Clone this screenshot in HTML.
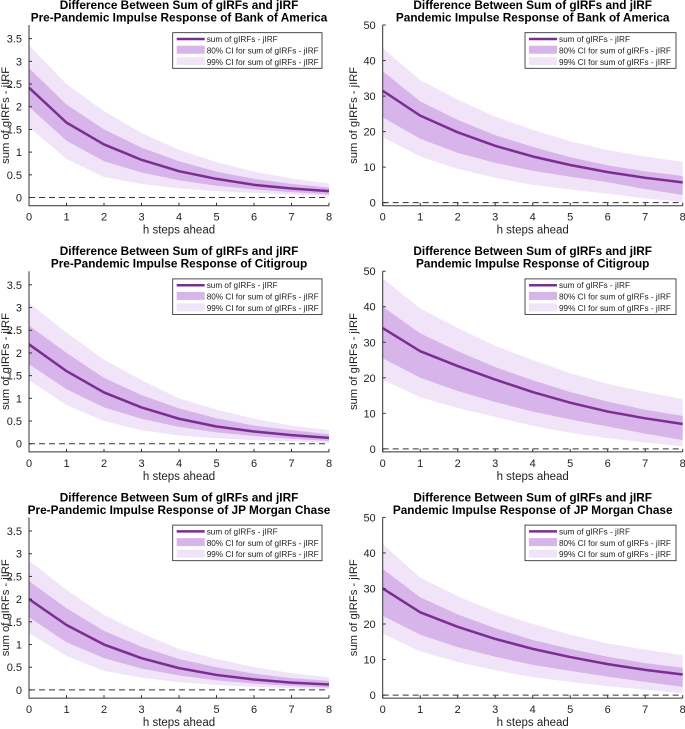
<!DOCTYPE html>
<html><head><meta charset="utf-8"><style>
html,body{margin:0;padding:0;background:#fff;}
svg{display:block;font-family:"Liberation Sans",Arial,sans-serif;}
</style></head><body>
<svg id="fig" width="685" height="729" viewBox="0 0 685 729" xmlns="http://www.w3.org/2000/svg"></svg>
<script>
const hSteps = [0,1,2,3,4,5,6,7,8];
const xTickLabels = ["0","1","2","3","4","5","6","7","8"];
const leftYTicks = [0,0.5,1,1.5,2,2.5,3,3.5];
const leftYTickLabels = ["0","0.5","1","1.5","2","2.5","3","3.5"];
const rightYTicks = [0,10,20,30,40,50];
const rightYTickLabels = ["0","10","20","30","40","50"];
const titles = [
 "Pre-Pandemic Impulse Response of Bank of America","Pandemic Impulse Response of Bank of America",
 "Pre-Pandemic Impulse Response of Citigroup","Pandemic Impulse Response of Citigroup",
 "Pre-Pandemic Impulse Response of JP Morgan Chase","Pandemic Impulse Response of JP Morgan Chase"];
// Panel 1: BoA pre
const boaPreMean = [2.42,1.65,1.17,0.83,0.58,0.41,0.28,0.2,0.14];
const boaPreUp80 = [2.85,2.05,1.5,1.1,0.8,0.57,0.41,0.3,0.22];
const boaPreLo80 = [2.0,1.25,0.8,0.55,0.38,0.26,0.18,0.12,0.07];
const boaPreUp99 = [3.35,2.5,1.9,1.42,1.05,0.78,0.57,0.42,0.31];
const boaPreLo99 = [1.55,0.85,0.45,0.3,0.2,0.14,0.1,0.07,0.03];
// Panel 2: BoA pandemic
const boaPanMean = [31.5,24.5,19.8,16,13,10.6,8.6,7,5.7];
const boaPanUp80 = [37,28.5,23.3,19,15.7,12.8,10.5,8.8,7.5];
const boaPanLo80 = [24,18,14,11.2,9,7.3,5.8,3.8,2.2];
const boaPanUp99 = [43.5,34.5,29,24.2,20.5,17.3,14.8,13,11.5];
const boaPanLo99 = [18.5,13,9.5,7,5,3.7,2.5,1.2,0.2];
// Panel 3: Citi pre
const citiPreMean = [2.19,1.6,1.13,0.8,0.55,0.38,0.27,0.19,0.13];
const citiPreUp80 = [2.6,2.0,1.45,1.07,0.78,0.56,0.4,0.3,0.21];
const citiPreLo80 = [1.75,1.2,0.8,0.55,0.37,0.25,0.17,0.11,0.06];
const citiPreUp99 = [3.1,2.45,1.85,1.4,1.0,0.75,0.55,0.4,0.3];
const citiPreLo99 = [1.4,0.85,0.5,0.3,0.18,0.12,0.08,0.05,0.02];
// Panel 4: Citi pandemic
const citiPanMean = [34,27.5,23.3,19.5,16,13,10.5,8.6,7];
const citiPanUp80 = [40,32.5,27.5,23,19.3,16,13.3,11,9.3];
const citiPanLo80 = [25.5,20,16.3,13.2,10.5,8.3,6.3,4.3,2.5];
const citiPanUp99 = [48,39.5,34,29,25,21.3,18.3,16,14];
const citiPanLo99 = [19.5,14.5,11.5,9,6.5,4.5,3,1.8,0.7];
// Panel 5: JPM pre
const jpmPreMean = [2.0,1.43,1.0,0.7,0.48,0.33,0.23,0.16,0.12];
const jpmPreUp80 = [2.4,1.8,1.3,0.95,0.68,0.5,0.36,0.26,0.2];
const jpmPreLo80 = [1.6,1.05,0.7,0.47,0.32,0.21,0.14,0.09,0.05];
const jpmPreUp99 = [2.85,2.2,1.65,1.25,0.9,0.68,0.5,0.37,0.28];
const jpmPreLo99 = [1.25,0.75,0.42,0.27,0.17,0.11,0.07,0.04,0.02];
// Panel 6: JPM pandemic
const jpmPanMean = [30,23.3,19.2,15.8,13,10.7,8.7,7.1,5.8];
const jpmPanUp80 = [35.5,27.5,22.7,18.8,15.5,13,10.8,9,7.7];
const jpmPanLo80 = [22.3,17,13.5,10.8,8.5,6.8,5.2,3.7,2.3];
const jpmPanUp99 = [42.5,33,27.8,23.5,20,17,14.5,12.8,11.2];
const jpmPanLo99 = [17.3,12.3,9.3,7,5,3.7,2.5,1.5,0.5];

const panels = [
 [boaPreMean,boaPreUp80,boaPreLo80,boaPreUp99,boaPreLo99],
 [boaPanMean,boaPanUp80,boaPanLo80,boaPanUp99,boaPanLo99],
 [citiPreMean,citiPreUp80,citiPreLo80,citiPreUp99,citiPreLo99],
 [citiPanMean,citiPanUp80,citiPanLo80,citiPanUp99,citiPanLo99],
 [jpmPreMean,jpmPreUp80,jpmPreLo80,jpmPreUp99,jpmPreLo99],
 [jpmPanMean,jpmPanUp80,jpmPanLo80,jpmPanUp99,jpmPanLo99]];

const NS="http://www.w3.org/2000/svg";
const svg=document.getElementById('fig');
function mk(tag,attrs,parent,text){const e=document.createElementNS(NS,tag);for(const k in attrs)e.setAttribute(k,attrs[k]);if(text!==undefined)e.textContent=text;(parent||svg).appendChild(e);return e;}

panels.forEach((p,i)=>{
  const col=i%2,row=Math.floor(i/2);
  const oy=row*246.2;
  const x0=col?382.7:29, x1=col?682.7:329;
  const top=25+oy, bot=205.7+oy;
  const ymin=col?-0.85:-0.18, ymax=col?50:3.8;
  const X=v=>x0+(v-hSteps[0])/(hSteps[hSteps.length-1]-hSteps[0])*(x1-x0);
  const Y=v=>bot-(v-ymin)/(ymax-ymin)*(bot-top);
  const g=mk('g',{});
  
  
  const cx=(x0+x1)/2;
  const t1=mk('text',{x:cx,y:9+oy,'text-anchor':'middle','font-size':'11.8','font-weight':'bold',fill:'#000'},g,'Difference Between Sum of gIRFs and jIRF');
  
  
  const t2=mk('text',{x:cx,y:21.5+oy,'text-anchor':'middle','font-size':'11.8','font-weight':'bold',fill:'#000'},g,titles[i]);
  
  
  function band(up,lo,fill,name){
    let d='M'+hSteps.map((h,k)=>X(h)+','+Y(up[k])).join('L');
    for(let k=hSteps.length-1;k>=0;k--)d+='L'+X(hSteps[k])+','+Y(lo[k]);
    const e=mk('path',{d:d+'Z',fill:fill},g);
    
    
  }
  band(p[3],p[4],'#F1E4F8','ci99-band');
  band(p[1],p[2],'#D7B4EA','ci80-band');
  const ln=mk('path',{d:'M'+hSteps.map((h,k)=>X(h)+','+Y(p[0][k])).join('L'),fill:'none',stroke:'#7B2D92','stroke-width':'2.5','stroke-linejoin':'round'},g);
  
  
  const zl=mk('line',{x1:x0,x2:x1,y1:Y(0),y2:Y(0),stroke:'#333','stroke-width':'1','stroke-dasharray':'6,4'},g);
  
  
  const ax=mk('path',{d:`M${x0},${top}L${x0},${bot}L${x1},${bot}`,fill:'none',stroke:'#333','stroke-width':'1'},g);
  
  
  hSteps.forEach((h,k)=>{
    mk('line',{x1:X(h),x2:X(h),y1:bot,y2:bot-3,stroke:'#333'},g);
    const tl=mk('text',{x:X(h),y:bot+15,'text-anchor':'middle','font-size':'11',fill:'#222'},g,xTickLabels[k]);
    
    
  });
  const yt=col?rightYTicks:leftYTicks, ytl=col?rightYTickLabels:leftYTickLabels;
  yt.forEach((v,k)=>{
    mk('line',{x1:x0,x2:x0+3,y1:Y(v),y2:Y(v),stroke:'#333'},g);
    const tl=mk('text',{x:x0-7,y:Y(v)+4,'text-anchor':'end','font-size':'11',fill:'#222'},g,ytl[k]);
    
    
  });
  const xl=mk('text',{x:cx,y:bot+28,'text-anchor':'middle','font-size':'11.5',fill:'#222'},g,'h steps ahead');
  
  
  const yx=col?357:9, yy=(top+bot)/2;
  const yl=mk('text',{x:yx,y:yy,'text-anchor':'middle','font-size':'11.2',fill:'#222',transform:`rotate(-90 ${yx} ${yy})`},g,'sum of gIRFs - jIRF');
  
  
  const lx=col?525:172.7, lw=col?151:149.3, ly=32.7+oy;
  const lg=mk('g',{},g);
  
  
  mk('rect',{x:lx,y:ly,width:lw,height:35.6,fill:'#fff',stroke:'#222','stroke-width':'0.8'},lg);
  const sx=lx+4, tx=lx+34;
  mk('line',{x1:sx,x2:sx+28,y1:ly+6.3,y2:ly+6.3,stroke:'#7B2D92','stroke-width':'2.5'},lg);
  mk('rect',{x:sx,y:ly+13,width:28,height:8,fill:'#D7B4EA'},lg);
  mk('rect',{x:sx,y:ly+24.5,width:28,height:8,fill:'#F1E4F8'},lg);
  const labs=['sum of gIRFs - jIRF','80% CI for sum of gIRFs - jIRF','99% CI for sum of gIRFs - jIRF'];
  labs.forEach((s,k)=>{
    const e=mk('text',{x:tx,y:ly+9.3+k*11.4,'font-size':'8.2',fill:'#222'},lg,s);
    
    
  });
});
</script>
</body></html>
